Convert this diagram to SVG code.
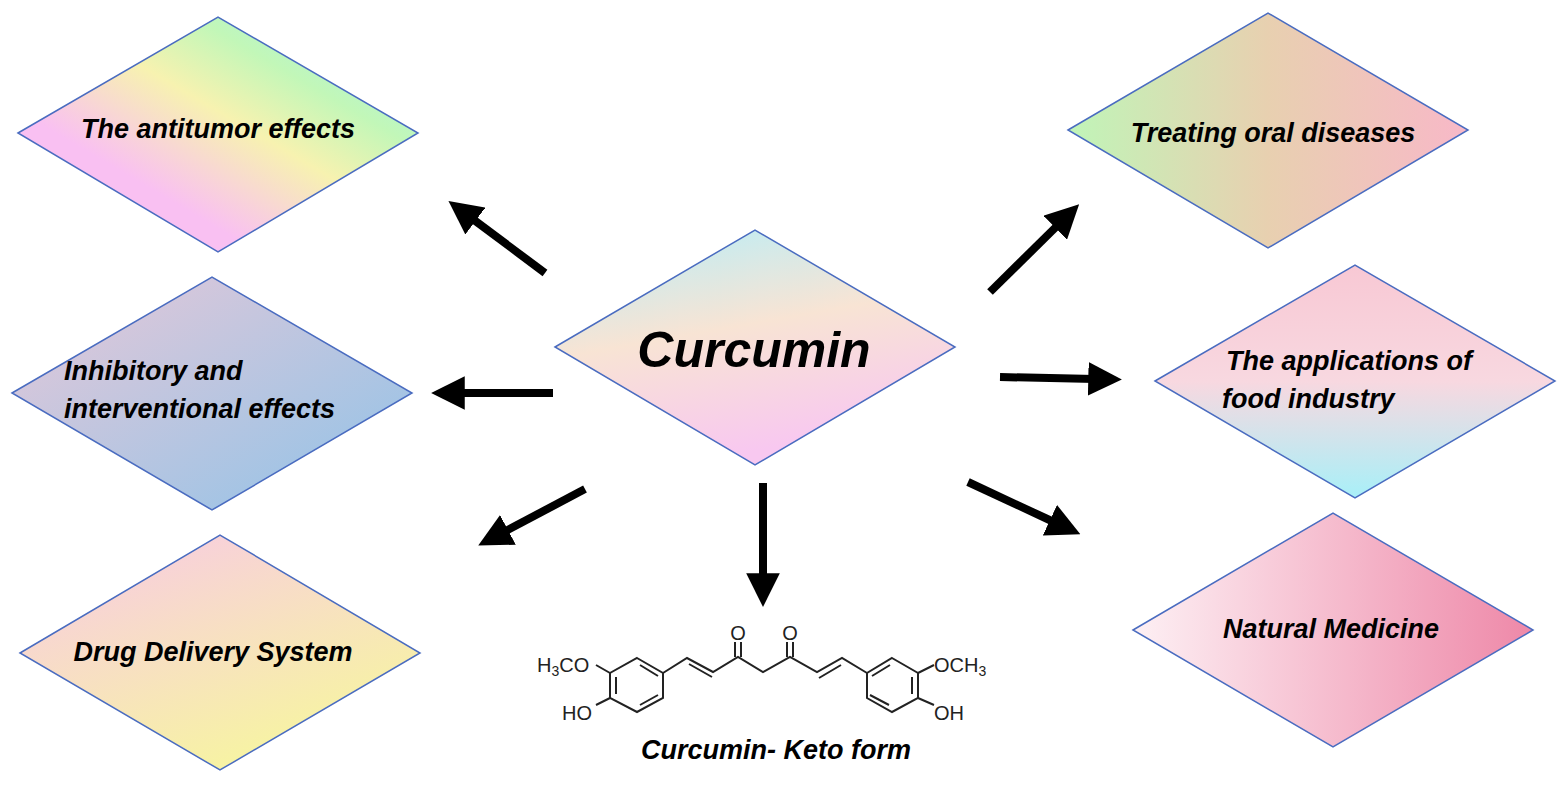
<svg xmlns="http://www.w3.org/2000/svg" width="1568" height="795" viewBox="0 0 1568 795">
<style>
.d{stroke:#4a6cc0;stroke-width:1.5}
.t{font-family:"Liberation Sans",Arial,sans-serif;font-weight:bold;font-style:italic;font-size:27px;fill:#000}
.big{font-size:50px}
.a{stroke:#000;stroke-width:8;fill:none;marker-end:url(#h)}
.b{stroke:#222;stroke-width:2;fill:none}
.c{font-family:"Liberation Sans",Arial,sans-serif;font-size:20px;fill:#222}
</style>
<defs>
<marker id="h" viewBox="0 0 10 10" refX="2" refY="5" markerWidth="4.2" markerHeight="4.2" orient="auto" markerUnits="strokeWidth"><path d="M0,0L10,5L0,10Z" fill="#000"/></marker>
<linearGradient id="g1" x1="0" y1="1" x2="1" y2="0"><stop offset="0.3" stop-color="#f9c0f2"/><stop offset="0.55" stop-color="#f7f2b0"/><stop offset="0.72" stop-color="#c2f7b8"/><stop offset="1" stop-color="#9ff0f5"/></linearGradient>
<linearGradient id="g2" x1="0" y1="0" x2="1" y2="1"><stop offset="0" stop-color="#e8c8d8"/><stop offset="1" stop-color="#8fc3e8"/></linearGradient>
<linearGradient id="g3" x1="0" y1="0" x2="0.6" y2="1"><stop offset="0" stop-color="#f8c8e8"/><stop offset="1" stop-color="#f7f5a0"/></linearGradient>
<linearGradient id="g4" x1="0" y1="0" x2="0.3" y2="1"><stop offset="0" stop-color="#b8eef8"/><stop offset="0.5" stop-color="#f8e4d4"/><stop offset="1" stop-color="#f8c8f0"/></linearGradient>
<linearGradient id="g5" x1="0" y1="0" x2="1" y2="0"><stop offset="0" stop-color="#c0f5b8"/><stop offset="0.5" stop-color="#e8d0b0"/><stop offset="1" stop-color="#f8b8c8"/></linearGradient>
<linearGradient id="g6" x1="0" y1="0" x2="0" y2="1"><stop offset="0" stop-color="#f8c8d4"/><stop offset="0.5" stop-color="#f8d8e0"/><stop offset="1" stop-color="#a8f0f8"/></linearGradient>
<linearGradient id="g7" x1="0" y1="0" x2="1" y2="0"><stop offset="0" stop-color="#fdf0f4"/><stop offset="1" stop-color="#ee88a8"/></linearGradient>
</defs>
<rect width="1568" height="795" fill="#fff"/>
<g id="n1"><path class="d" fill="url(#g1)" d="M18,133L218,17L418,133L218,252Z"/><text class="t" x="218" y="138" text-anchor="middle">The antitumor effects</text></g>
<g id="n2"><path class="d" fill="url(#g2)" d="M12,393L212,277L412,393L212,510Z"/><text class="t" x="64" y="380">Inhibitory and</text><text class="t" x="64" y="418">interventional effects</text></g>
<g id="n3"><path class="d" fill="url(#g3)" d="M20,653L220,535L420,653L220,770Z"/><text class="t" x="213" y="661" text-anchor="middle">Drug Delivery System</text></g>
<g id="n4"><path class="d" fill="url(#g4)" d="M555,347L755,230L955,347L755,465Z"/><text class="t big" x="754" y="367" text-anchor="middle">Curcumin</text></g>
<g id="n5"><path class="d" fill="url(#g5)" d="M1068,130L1268,13L1468,130L1268,248Z"/><text class="t" x="1273" y="142" text-anchor="middle">Treating oral diseases</text></g>
<g id="n6"><path class="d" fill="url(#g6)" d="M1155,381L1355,265L1555,381L1355,498Z"/><text class="t" x="1226" y="370">The applications of</text><text class="t" x="1222" y="408">food industry</text></g>
<g id="n7"><path class="d" fill="url(#g7)" d="M1133,630L1333,513L1533,630L1333,747Z"/><text class="t" x="1331" y="638" text-anchor="middle">Natural Medicine</text></g>
<g id="connectors">
<line class="a" x1="545" y1="273" x2="470" y2="217"/>
<line class="a" x1="553" y1="393" x2="458" y2="393"/>
<line class="a" x1="585" y1="489" x2="502" y2="533"/>
<line class="a" x1="763" y1="483" x2="763" y2="580"/>
<line class="a" x1="990" y1="292" x2="1060" y2="223"/>
<line class="a" x1="1000" y1="377" x2="1095" y2="379"/>
<line class="a" x1="968" y1="482" x2="1056" y2="523"/>
</g>
<g id="structure">
<path class="b" d="M637,658L663,673L663,698L637,712L610,698L610,673Z"/>
<path class="b" d="M616,677L616,694M640,705L658,695M640,665L658,676"/>
<path class="b" d="M596,665L610,673M596,705L610,698"/>
<path class="b" d="M663,673L687,658L713,672L738,657L763,672L790,657L817,672L842,658L867,673"/>
<path class="b" d="M689,664L712,677M819,678L841,665"/>
<path class="b" d="M735,657L735,642M741,657L741,642M787,657L787,642M793,657L793,642"/>
<path class="b" d="M892,658L918,673L918,698L892,712L867,698L867,673Z"/>
<path class="b" d="M912,677L912,694M870,695L889,705M872,676L890,665"/>
<path class="b" d="M918,673L934,665M918,698L934,705"/>
<text class="c" x="537" y="672">H<tspan font-size="14" dy="4">3</tspan><tspan dy="-4">CO</tspan></text>
<text class="c" x="562" y="720">HO</text>
<text class="c" x="738" y="640" text-anchor="middle">O</text>
<text class="c" x="790" y="640" text-anchor="middle">O</text>
<text class="c" x="934" y="672">OCH<tspan font-size="14" dy="4">3</tspan></text>
<text class="c" x="934" y="720">OH</text>
<text class="t" x="776" y="759" text-anchor="middle">Curcumin- Keto form</text>
</g>
</svg>
